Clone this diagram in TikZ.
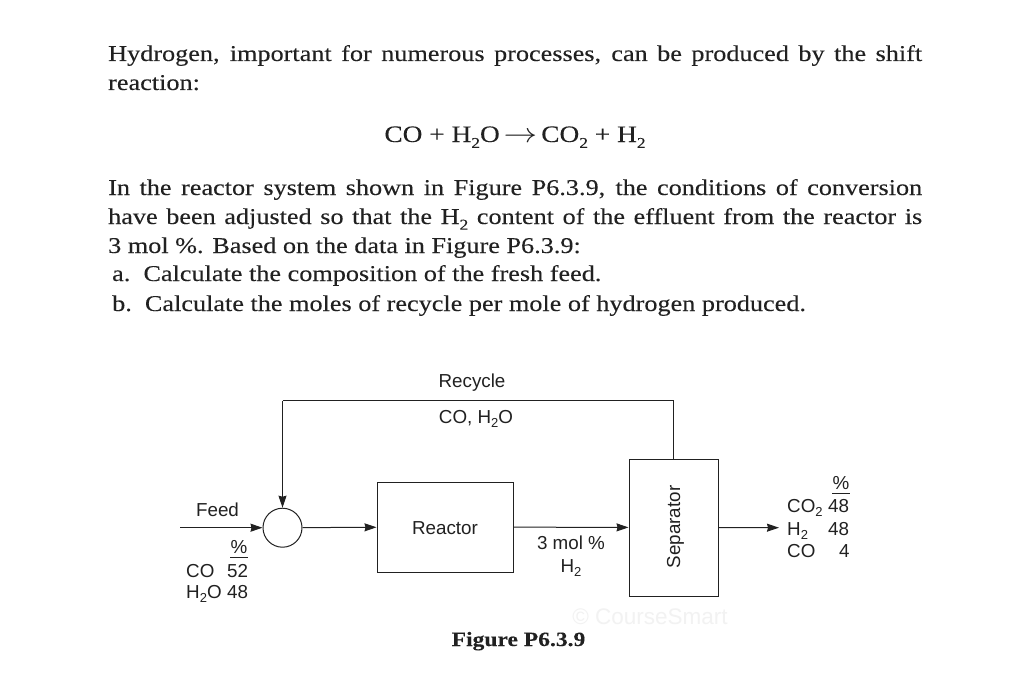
\documentclass[tikz,border=0pt]{standalone}
\usepackage{fontspec}
\setmainfont[FakeStretch=1.16,FakeBold=0.12]{Liberation Serif}
\newfontfamily\diag{Liberation Sans}
\usetikzlibrary{arrows.meta}
\definecolor{ink}{gray}{0.13}
\tikzset{
 para/.style={anchor=base west,inner sep=0pt,font=\fontsize{22.6}{22.6}\selectfont,text=ink},
 lab/.style={anchor=base,inner sep=0pt,font=\diag\fontsize{18.8}{18.8}\selectfont,text=ink},
 boxn/.style={draw=ink,line width=1pt,inner sep=0pt},
 flow/.style={draw=ink,line width=1pt,-{Stealth[length=12pt,width=8pt,inset=1pt]}},
 pipe/.style={draw=ink,line width=1pt},
 rulen/.style={draw=ink,line width=0.9pt}
}
\newcommand{\psub}[1]{\raisebox{-0.25em}{\fontsize{15}{15}\selectfont #1}}
\newcommand{\dsub}[1]{\raisebox{-0.22em}{\fontsize{13}{13}\selectfont #1}}
\newcommand{\jline}[1]{\makebox[814pt][s]{#1}}
\begin{document}
\begin{tikzpicture}[x=1pt,y=-1pt]
\useasboundingbox (0,0) rectangle (1024,682);
\fill[white] (0,0) rectangle (1024,682);
\node[para] (l1) at (108,61) {\jline{Hydrogen, important for numerous processes, can be produced by the shift}};
\node[para] (l2) at (108,90) {reaction:};
\node[para,anchor=base,font=\fontsize{23.6}{23.6}\selectfont] (eq) at (515,142) {CO + H\psub{2}O\,\scalebox{1.35}[1.1]{$\rightarrow$}\,CO\psub{2} + H\psub{2}};
\node[para] (l3) at (108,195) {\jline{In the reactor system shown in Figure P6.3.9, the conditions of conversion}};
\node[para] (l4) at (108,224) {\jline{have been adjusted so that the H\psub{2} content of the effluent from the reactor is}};
\node[para] (l5) at (108,253) {3 mol \%. Based on the data in Figure P6.3.9:};
\node[para] (l6) at (112,281) {a.\ \ Calculate the composition of the fresh feed.};
\node[para] (l7) at (112,311) {b.\ \ Calculate the moles of recycle per mole of hydrogen produced.};
\node[boxn,minimum width=136pt,minimum height=90pt] (reactor) at (445,527) {};
\node[lab] (rl) at (445,534) {Reactor};
\node[boxn,minimum width=89pt,minimum height=137pt] (sep) at (673.5,527.5) {};
\node[lab,rotate=90] (sl) at (680,527) {Separator};
\node[circle,boxn,minimum size=39pt] (mix) at (282.5,527.7) {};
\coordinate (feed) at (180,527.7);
\coordinate (out) at (779,527.7);
\coordinate (c1) at (673.5,400.5);
\coordinate (c2) at (282.5,400.5);
\draw[flow] (feed) -- (mix);
\draw[flow] (mix) -- (reactor);
\draw[flow] (reactor) -- (sep);
\draw[flow] (sep) -- (out);
\draw[pipe] (sep.north) -- (c1) -- (c2);
\draw[flow] (c2) -- (mix);
\node[lab] (t1) at (472,387) {Recycle};
\node[lab] (t2) at (476,423) {CO, H\dsub{2}O};
\node[lab] (t3) at (217.5,516) {Feed};
\node[lab] (t4) at (239,553) {\%};
\coordinate (u1a) at (230,557);
\coordinate (u1b) at (248,557);
\draw[rulen] (u1a) -- (u1b);
\node[lab,anchor=base west] (t5) at (186,577) {\makebox[41pt][l]{CO}52};
\node[lab,anchor=base west] (t6) at (186,598) {\makebox[41pt][l]{H\dsub{2}O}48};
\node[lab] (t7) at (571,549) {3 mol \%};
\node[lab] (t8) at (571,572) {H\dsub{2}};
\node[lab] (t9) at (841,489) {\%};
\coordinate (u2a) at (832,493);
\coordinate (u2b) at (850,493);
\draw[rulen] (u2a) -- (u2b);
\node[lab,anchor=base west] (t10) at (787,512) {\makebox[41pt][l]{CO\dsub{2}}48};
\node[lab,anchor=base west] (t11) at (787,535) {\makebox[41pt][l]{H\dsub{2}}48};
\node[lab,anchor=base west] (t12) at (787,557) {\makebox[52pt][l]{CO}4};
\node[anchor=base,inner sep=0pt,font=\diag\fontsize{22.5}{22.5}\selectfont,text=black!5] (wm) at (650,624) {© CourseSmart};
\node[anchor=base,inner sep=0pt,font=\bfseries\fontsize{20.3}{20.3}\selectfont,text=ink] (cap) at (518.5,646) {Figure P6.3.9};
\end{tikzpicture}
\end{document}
